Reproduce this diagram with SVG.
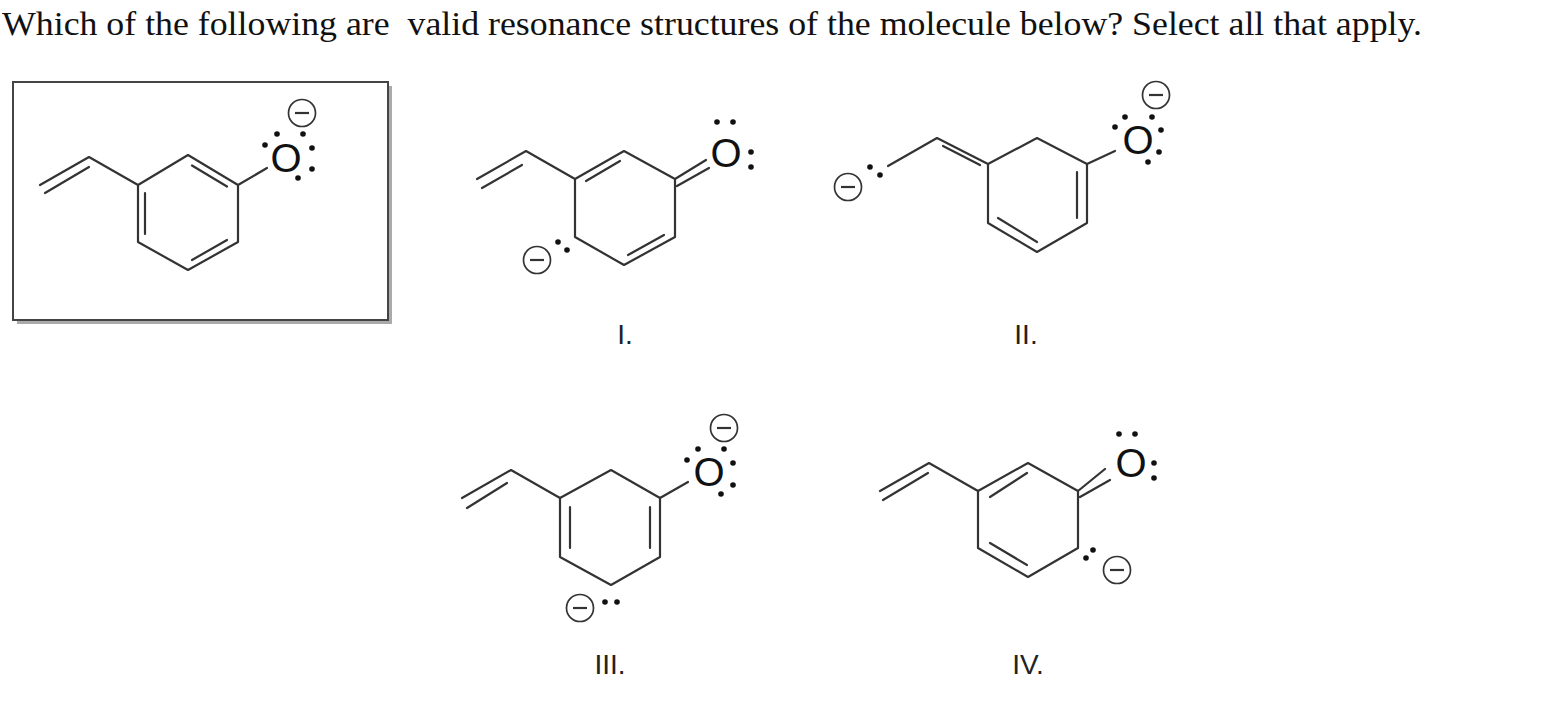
<svg xmlns="http://www.w3.org/2000/svg" width="1543" height="721" viewBox="0 0 1543 721">
<defs>
<g id="minus"><circle r="13.5" fill="none" stroke="#333" stroke-width="1.7"/><line x1="-7" y1="0" x2="7" y2="0" stroke="#333" stroke-width="2.2"/></g>
</defs>
<style>
.b{stroke:#333;stroke-width:2.2;fill:none;stroke-linejoin:round;stroke-linecap:round}
.o{font-family:"Liberation Sans",Arial,sans-serif;font-size:40px;fill:#111;text-anchor:middle}
.l{font-family:"Liberation Sans",Arial,sans-serif;font-size:28px;fill:#222;text-anchor:middle}
.t{font-family:"Liberation Serif","Times New Roman",serif;font-size:33px;fill:#111;white-space:pre}
.d{fill:#111}
</style>
<rect width="1543" height="721" fill="#fff"/>
<text class="t" x="2" y="35" textLength="1420" lengthAdjust="spacingAndGlyphs" xml:space="preserve">Which of the following are  valid resonance structures of the molecule below? Select all that apply.</text>

<g id="start">
<rect x="17" y="86" width="375" height="238" fill="#aaa"/>
<rect x="13" y="82" width="375" height="238" fill="#fff" stroke="#444" stroke-width="2"/>
<path class="b" d="M188,155 L238,185 L238,242 L188,270 L138,242 L138,185 Z M138,185 L89,157 L40,185 M45,193 L89,167 M192,165.5 L227,186.5 M145,193 L145,234 M192,260 L227,240 M238,185 L267,168"/>
<text class="o" x="286" y="172">O</text>
<use href="#minus" x="302" y="113"/>
<g class="d"><circle cx="265" cy="145" r="2.8"/><circle cx="277" cy="134" r="2.8"/><circle cx="303" cy="134" r="2.8"/><circle cx="312" cy="148" r="2.8"/><circle cx="312" cy="169" r="2.8"/><circle cx="298" cy="178" r="2.8"/></g>
</g>

<g id="s1">
<path class="b" d="M624,151 L675,179 L675,237 L624,265 L575,237 L575,179 Z M575,179 L526,151 L477,179 M482,188 L522,165 M586,181 L620,161 M664,235 L628,255 M675,179 L706,160 M677,186 L709,168"/>
<text class="o" x="726" y="167">O</text>
<g class="d"><circle cx="717" cy="122" r="2.8"/><circle cx="733" cy="122" r="2.8"/><circle cx="751" cy="152" r="2.8"/><circle cx="751" cy="167" r="2.8"/><circle cx="558" cy="242" r="2.8"/><circle cx="567" cy="250" r="2.8"/></g>
<use href="#minus" x="537" y="260"/>
<text class="l" x="625" y="344">I.</text>
</g>

<g id="s2">
<path class="b" d="M1037,138 L1087,164 L1087,223 L1037,252 L988,223 L988,164 Z M988,164 L937,138 L888,166 M943,146 L980,165 M1077,172 L1077,218 M998,218 L1037,242 M1087,164 L1115,151"/>
<text class="o" x="1138" y="154">O</text>
<use href="#minus" x="1156" y="95"/>
<use href="#minus" x="848" y="187"/>
<g class="d"><circle cx="1115" cy="127" r="2.8"/><circle cx="1125" cy="117" r="2.8"/><circle cx="1152" cy="117" r="2.8"/><circle cx="1161" cy="130" r="2.8"/><circle cx="1159" cy="152" r="2.8"/><circle cx="1148" cy="162" r="2.8"/><circle cx="870" cy="167" r="2.8"/><circle cx="880" cy="175" r="2.8"/></g>
<text class="l" x="1026" y="344">II.</text>
</g>

<g id="s3">
<path class="b" d="M611,470 L660,498 L660,557 L611,585 L560,557 L560,498 Z M560,498 L511,470 L462,498 M467,508 L507,483 M570,507 L570,548 M650,507 L650,548 M660,498 L688,482"/>
<text class="o" x="709" y="486">O</text>
<use href="#minus" x="724" y="428"/>
<use href="#minus" x="580" y="608"/>
<g class="d"><circle cx="687" cy="460" r="2.8"/><circle cx="698" cy="449" r="2.8"/><circle cx="724" cy="449" r="2.8"/><circle cx="733" cy="463" r="2.8"/><circle cx="733" cy="485" r="2.8"/><circle cx="721" cy="494" r="2.8"/><circle cx="605" cy="602" r="2.8"/><circle cx="617" cy="602" r="2.8"/></g>
<text class="l" x="610" y="674">III.</text>
</g>

<g id="s4">
<path class="b" d="M1028,463 L1078,491 L1078,548 L1028,577 L978,548 L978,491 Z M978,491 L929,463 L880,491 M883,500 L928,473 M990,497 L1027,473 M990,543 L1027,565 M1078,491 L1105,469 M1080,497 L1110,480"/>
<text class="o" x="1131" y="477">O</text>
<g class="d"><circle cx="1119" cy="434" r="2.8"/><circle cx="1135" cy="434" r="2.8"/><circle cx="1154" cy="463" r="2.8"/><circle cx="1154" cy="478" r="2.8"/><circle cx="1093" cy="550" r="2.8"/><circle cx="1086" cy="558" r="2.8"/></g>
<use href="#minus" x="1117" y="570"/>
<text class="l" x="1028" y="674">IV.</text>
</g>
<g id="connectors"/>
</svg>
